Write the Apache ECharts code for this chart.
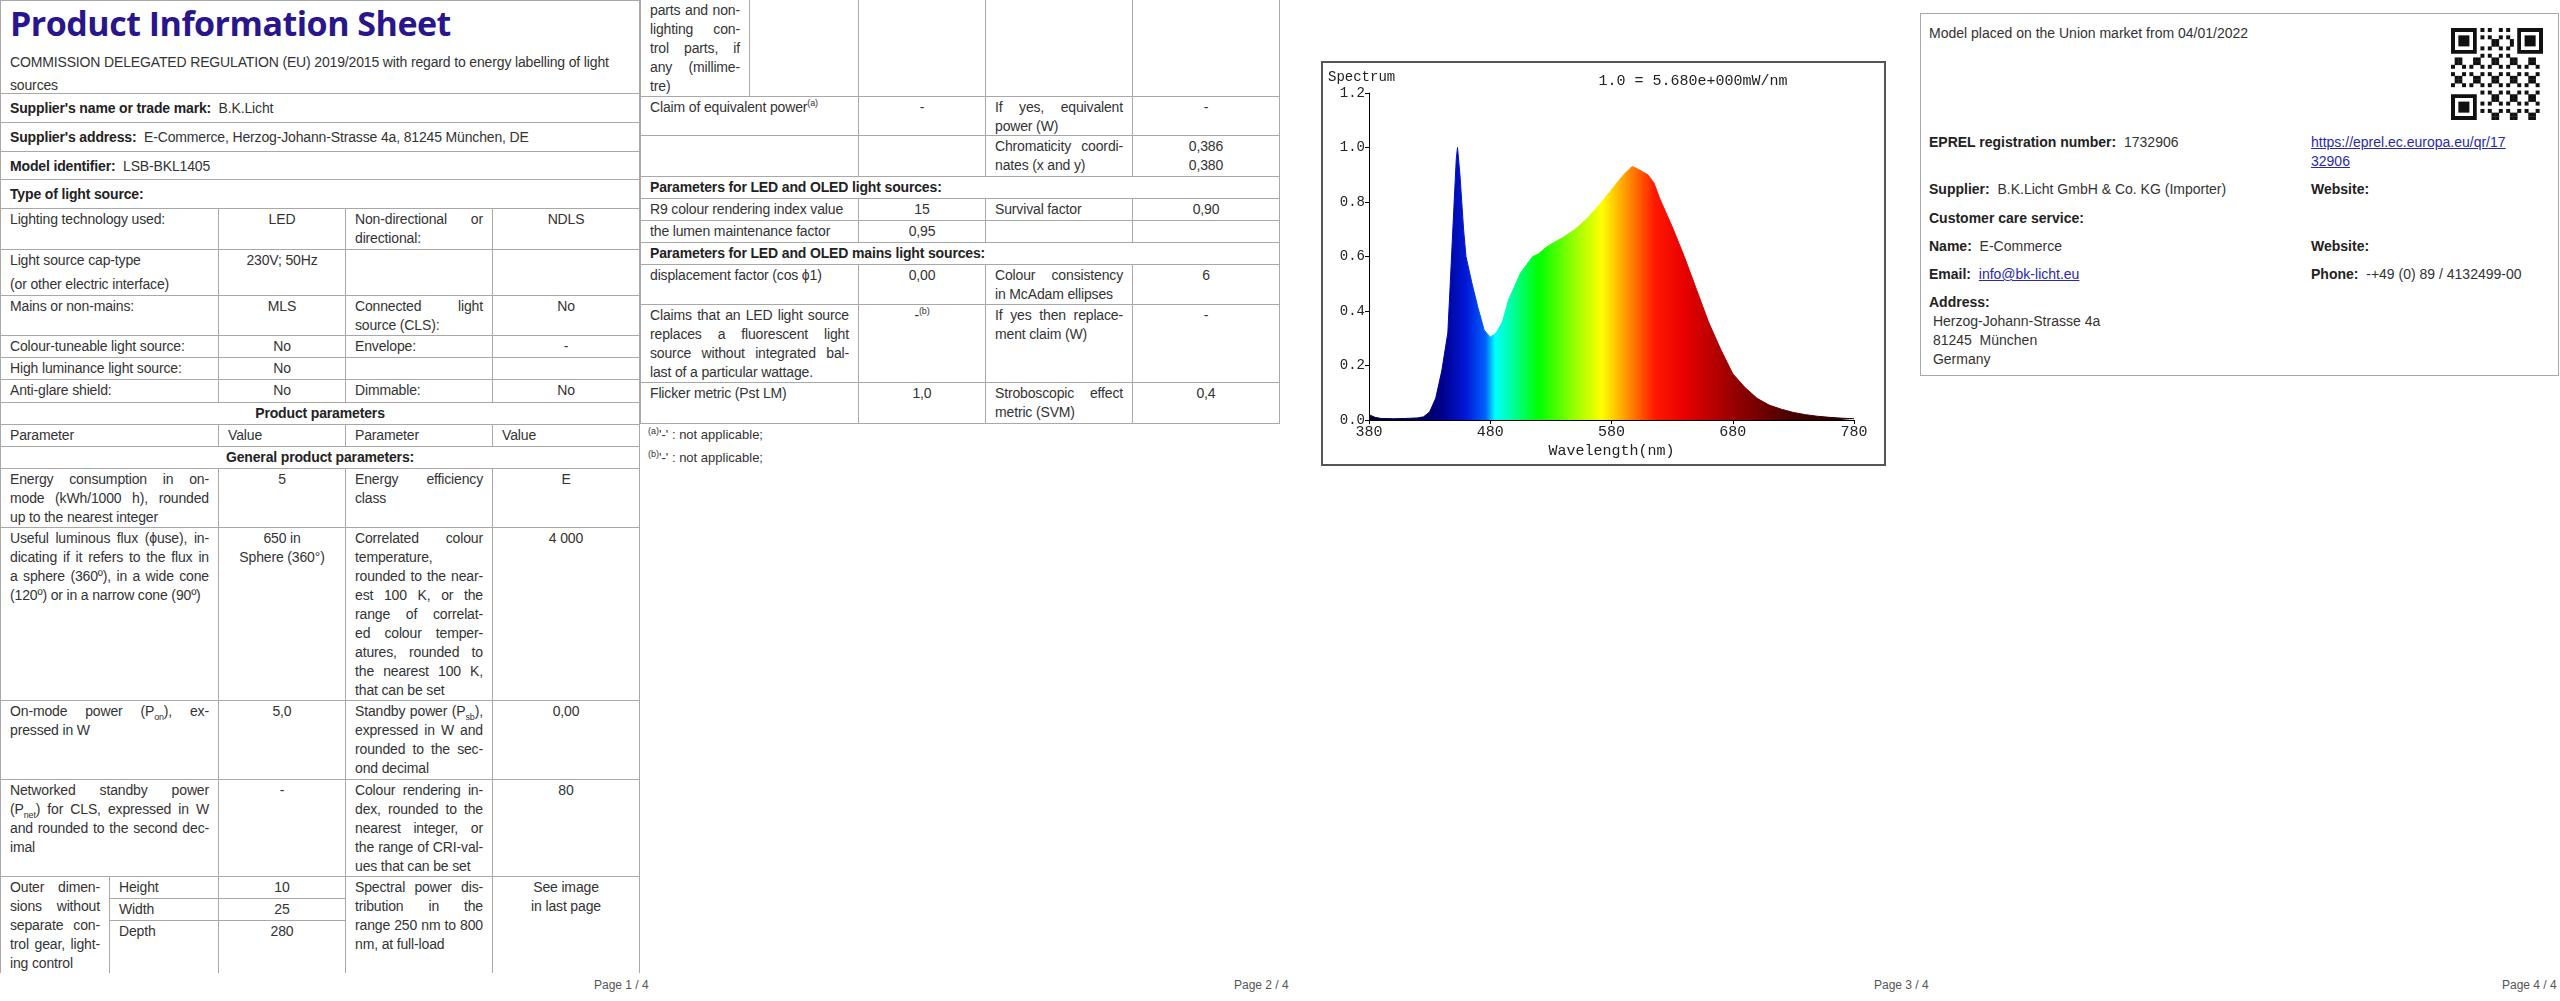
<!DOCTYPE html>
<html><head><meta charset="utf-8">
<script src="https://cdn.jsdelivr.net/npm/echarts@6/dist/echarts.min.js"></script>
<style>
html,body{margin:0;padding:0;background:#fff;width:2560px;height:1001px;overflow:hidden;}
body{font-family:"Liberation Sans","Arimo",sans-serif;font-size:14px;color:#333;position:relative;}
.c{position:absolute;box-sizing:border-box;border:1px solid #a8a8a8;padding:1px 9px 0 9px;line-height:19px;overflow:hidden;letter-spacing:-0.15px;}
.j{text-align:justify;hyphens:manual;}
.m{text-align:center;}
.jl{text-align:justify;text-align-last:justify;}
.pg{position:absolute;overflow:hidden;}
.foot{position:absolute;font-size:12px;color:#555;white-space:nowrap;}
b{color:#222;}
a{color:#2a2aa8;text-decoration:underline;}
.t{position:absolute;white-space:nowrap;line-height:19px;}
sub,sup{font-size:9px;line-height:0;}
</style></head><body>
<div id="p1" class="pg" style="left:0;top:0;width:641px;height:973px;"></div>
<div id="p2" class="pg" style="left:640px;top:0;width:641px;height:430px;"></div>
<div class="t" style="left:648px;top:425px;font-size:13px;"><sup>(a)</sup>'-' : not applicable;</div>
<div class="t" style="left:648px;top:448px;font-size:13px;"><sup>(b)</sup>'-' : not applicable;</div>
<div class="foot" style="left:594px;top:978px;">Page 1 / 4</div>
<div class="foot" style="left:1234px;top:978px;">Page 2 / 4</div>
<div class="foot" style="left:1874px;top:978px;">Page 3 / 4</div>
<div class="foot" style="left:2502px;top:978px;">Page 4 / 4</div>
<div id="chart" style="position:absolute;left:1321px;top:61px;width:565px;height:405px;box-sizing:border-box;border:2px solid #555;"></div>
<div style="position:absolute;left:1920px;top:13px;width:639px;height:363px;box-sizing:border-box;border:1px solid #a8a8a8;"></div>
<div class="t" style="left:1929px;top:24px;">Model placed on the Union market from 04/01/2022</div>
<canvas id="qr" width="92" height="92" style="position:absolute;left:2451px;top:28px;"></canvas>
<div class="t" style="left:1929px;top:133px;"><b>EPREL registration number:</b>&nbsp; 1732906</div>
<div class="t" style="left:2311px;top:133px;"><a>https://eprel.ec.europa.eu/qr/17</a><br><a>32906</a></div>
<div class="t" style="left:1929px;top:180px;"><b>Supplier:</b>&nbsp; B.K.Licht GmbH &amp; Co. KG (Importer)</div>
<div class="t" style="left:2311px;top:180px;"><b>Website:</b></div>
<div class="t" style="left:1929px;top:209px;"><b>Customer care service:</b></div>
<div class="t" style="left:1929px;top:237px;"><b>Name:</b>&nbsp; E-Commerce</div>
<div class="t" style="left:2311px;top:237px;"><b>Website:</b></div>
<div class="t" style="left:1929px;top:265px;"><b>Email:</b>&nbsp; <a>info@bk-licht.eu</a></div>
<div class="t" style="left:2311px;top:265px;"><b>Phone:</b>&nbsp; -+49 (0) 89 / 4132499-00</div>
<div class="t" style="left:1929px;top:293px;"><b>Address:</b><br>&nbsp;Herzog-Johann-Strasse 4a<br>&nbsp;81245&nbsp; München<br>&nbsp;Germany</div>
<script>
// Spectrum data (relative intensity, 1.0 = 5.680 mW/nm)
const wavelengths = [380,385,390,400,410,420,425,430,435,440,445,447,450,452,453,455,458,460,465,470,475,480,485,490,495,500,505,510,515,520,525,530,540,550,560,570,580,590,597,600,610,615,620,630,640,650,660,670,680,690,700,710,720,730,740,750,760,770,780];
const intensity   = [0.02,0.01,0.006,0.005,0.006,0.008,0.012,0.03,0.08,0.18,0.32,0.5,0.78,0.96,1.0,0.9,0.7,0.6,0.5,0.41,0.33,0.305,0.32,0.36,0.44,0.49,0.54,0.57,0.6,0.61,0.63,0.645,0.67,0.7,0.74,0.79,0.845,0.9,0.93,0.925,0.9,0.87,0.81,0.71,0.6,0.48,0.36,0.26,0.17,0.12,0.08,0.055,0.04,0.028,0.02,0.014,0.01,0.007,0.005];
const xTicks = [380,480,580,680,780];
const yTicks = [0,0.2,0.4,0.6,0.8,1.0,1.2];

function cell(page,x,y,w,h,html,cls){
  const d=document.createElement('div');d.className='c '+(cls||'');
  d.style.left=x+'px';d.style.top=y+'px';d.style.width=(w+1)+'px';d.style.height=(h+1)+'px';
  d.innerHTML=html;document.getElementById(page).appendChild(d);
}
function L(lines){return lines.map((s,i)=>i<lines.length-1?'<div class="jl">'+s+'</div>':'<div>'+s+'</div>').join('');}
const X=[0,218,345,492,639];
function row4(p,X,y,h,a,b,c2,d){cell(p,X[0],y,X[1]-X[0],h,a,'j');cell(p,X[1],y,X[2]-X[1],h,b,'m');cell(p,X[2],y,X[3]-X[2],h,c2,'j');cell(p,X[3],y,X[4]-X[3],h,d,'m');}
cell('p1',0,0,639,93,'<div style="font-size:34px;font-weight:bold;color:#2a168c;line-height:40px;margin-top:1px;font-family:\'Open Sans\',sans-serif;letter-spacing:-0.5px;">Product Information Sheet</div><div style="margin-top:8px;line-height:23px;">COMMISSION DELEGATED REGULATION (EU) 2019/2015 with regard to energy labelling of light sources</div>');
cell('p1',0,93,639,29,'<div style="padding-top:4px"><b>Supplier\'s name or trade mark:</b>&nbsp; B.K.Licht</div>');
cell('p1',0,122,639,29,'<div style="padding-top:4px"><b>Supplier\'s address:</b>&nbsp; E-Commerce, Herzog-Johann-Strasse 4a, 81245 München, DE</div>');
cell('p1',0,151,639,28,'<div style="padding-top:4px"><b>Model identifier:</b>&nbsp; LSB-BKL1405</div>');
cell('p1',0,179,639,29,'<div style="padding-top:4px"><b>Type of light source:</b></div>');
row4('p1',X,208,41,'Lighting technology used:','LED',L(['Non-directional or','directional:']),'NDLS');
row4('p1',X,249,46,'Light source cap-type<br><span style="line-height:28px">(or other electric interface)</span>','230V; 50Hz','','');
row4('p1',X,295,40,'Mains or non-mains:','MLS',L(['Connected light','source (CLS):']),'No');
row4('p1',X,335,22,'Colour-tuneable light source:','No','Envelope:','-');
row4('p1',X,357,22,'High luminance light source:','No','','');
row4('p1',X,379,23,'Anti-glare shield:','No','Dimmable:','No');
cell('p1',0,402,639,22,'<b>Product parameters</b>','m');
cell('p1',0,424,218,22,'Parameter');cell('p1',218,424,127,22,'Value');cell('p1',345,424,147,22,'Parameter');cell('p1',492,424,147,22,'Value');
cell('p1',0,446,639,22,'<b>General product parameters:</b>','m');
row4('p1',X,468,59,L(['Energy consumption in on-','mode (kWh/1000 h), rounded','up to the nearest integer']),'5',L(['Energy efficiency','class']),'E');
row4('p1',X,527,173,L(['Useful luminous flux (ϕuse), in-','dicating if it refers to the flux in','a sphere (360º), in a wide cone','(120º) or in a narrow cone (90º)']),'650 in<br>Sphere (360°)',L(['Correlated colour','temperature,','rounded to the near-','est 100 K, or the','range of correlat-','ed colour temper-','atures, rounded to','the nearest 100 K,','that can be set']),'4 000');
row4('p1',X,700,79,L(['On-mode power (P<sub>on</sub>), ex-','pressed in W']),'5,0',L(['Standby power (P<sub>sb</sub>),','expressed in W and','rounded to the sec-','ond decimal']),'0,00');
row4('p1',X,779,97,L(['Networked standby power','(P<sub>net</sub>) for CLS, expressed in W','and rounded to the second dec-','imal']),'-',L(['Colour rendering in-','dex, rounded to the','nearest integer, or','the range of CRI-val-','ues that can be set']),'80');
cell('p1',0,876,109,130,L(['Outer dimen-','sions without','separate con-','trol gear, light-','ing control']));
cell('p1',109,876,109,22,'Height');cell('p1',218,876,127,22,'10','m');
cell('p1',109,898,109,22,'Width');cell('p1',218,898,127,22,'25','m');
cell('p1',109,920,109,90,'Depth');cell('p1',218,920,127,90,'280','m');
cell('p1',345,876,147,130,L(['Spectral power dis-','tribution in the','range 250 nm to 800','nm, at full-load']));
cell('p1',492,876,147,130,'See image<br>in last page','m');
const Y=[0,218,345,492,639];
cell('p2',0,-2,109,98,'<div style="padding-top:1px">'+L(['parts and non-','lighting con-','trol parts, if','any (millime-','tre)'])+'</div>');
cell('p2',109,-2,109,98,'');cell('p2',218,-2,127,98,'');cell('p2',345,-2,147,98,'');cell('p2',492,-2,147,98,'');
row4('p2',Y,96,39,'Claim of equivalent power<sup>(a)</sup>','-',L(['If yes, equivalent','power (W)']),'-');
row4('p2',Y,135,41,'','',L(['Chromaticity coordi-','nates (x and y)']),'0,386<br>0,380');
cell('p2',0,176,639,22,'<b>Parameters for LED and OLED light sources:</b>');
row4('p2',Y,198,22,'R9 colour rendering index value','15','Survival factor','0,90');
row4('p2',Y,220,22,'the lumen maintenance factor','0,95','','');
cell('p2',0,242,639,22,'<b>Parameters for LED and OLED mains light sources:</b>');
row4('p2',Y,264,40,'displacement factor (cos ϕ1)','0,00',L(['Colour consistency','in McAdam ellipses']),'6');
row4('p2',Y,304,78,L(['Claims that an LED light source','replaces a fluorescent light','source without integrated bal-','last of a particular wattage.']),'-<sup>(b)</sup>',L(['If yes then replace-','ment claim (W)']),'-');
row4('p2',Y,382,41,'Flicker metric (Pst LM)','1,0',L(['Stroboscopic effect','metric (SVM)']),'0,4');

(function(){const cv=document.getElementById('qr').getContext('2d');const n=25,s=92/n;cv.fillStyle='#111';
 function fin(a,b){cv.fillRect(a*s,b*s,7*s,7*s);cv.clearRect((a+1)*s,(b+1)*s,5*s,5*s);cv.fillRect((a+2)*s,(b+2)*s,3*s,3*s);}
 fin(0,0);fin(18,0);fin(0,18);
 for(let i=0;i<n;i++)for(let j=0;j<n;j++){const inF=(i<8&&j<8)||(i>16&&j<8)||(i<8&&j>16);if(inF)continue;if(((i*7+j*13+i*j*3)%5)<2)cv.fillRect(i*s,j*s,s+0.3,s+0.3);}
})();

const chart=echarts.init(document.getElementById('chart'));
const grad={type:'linear',x:0,y:0,x2:1,y2:0,colorStops:[
 {offset:0,color:'#000030'},{offset:0.1,color:'#000050'},{offset:0.15,color:'#00008a'},{offset:0.2,color:'#0018d8'},
 {offset:0.24,color:'#0060ff'},{offset:0.26,color:'#00ffff'},{offset:0.3,color:'#00ff90'},{offset:0.35,color:'#00ff00'},
 {offset:0.42,color:'#90ff00'},{offset:0.48,color:'#ffff00'},{offset:0.53,color:'#ff9800'},{offset:0.59,color:'#ff1800'},
 {offset:0.65,color:'#e80000'},{offset:0.75,color:'#980000'},{offset:0.87,color:'#480000'},{offset:1,color:'#200000'}]};
const mono='"Liberation Mono","DejaVu Sans Mono",monospace';
chart.setOption({
 animation:false,
 title:[{text:'Spectrum',left:0,top:2,textStyle:{fontFamily:mono,fontSize:14,fontWeight:'normal',color:'#222'}},
        {text:'1.0 = 5.680e+000mW/nm',left:365,top:6,textAlign:'center',textStyle:{fontFamily:mono,fontSize:15,fontWeight:'normal',color:'#222'}}],
 grid:{left:46,right:30,top:30,bottom:38},
 xAxis:{type:'value',min:380,max:780,interval:100,name:'Wavelength(nm)',nameLocation:'middle',nameGap:22,
   nameTextStyle:{fontFamily:mono,fontSize:15,color:'#222'},
   axisLine:{lineStyle:{color:'#000'}},axisTick:{length:4,lineStyle:{color:'#000'}},splitLine:{show:false},
   axisLabel:{fontFamily:mono,fontSize:15,color:'#222',margin:4}},
 yAxis:{type:'value',min:0,max:1.2,interval:0.2,
   axisLine:{show:true,lineStyle:{color:'#000'}},axisTick:{show:true,length:4,lineStyle:{color:'#000'}},splitLine:{show:false},
   axisLabel:{fontFamily:mono,fontSize:14,color:'#222',margin:4,formatter:v=>v.toFixed(1)}},
 series:[{type:'line',data:wavelengths.map((w,i)=>[w,intensity[i]]),symbol:'none',
   lineStyle:{width:1,color:grad},areaStyle:{color:grad,opacity:1}}]
});
</script>
</body></html>
